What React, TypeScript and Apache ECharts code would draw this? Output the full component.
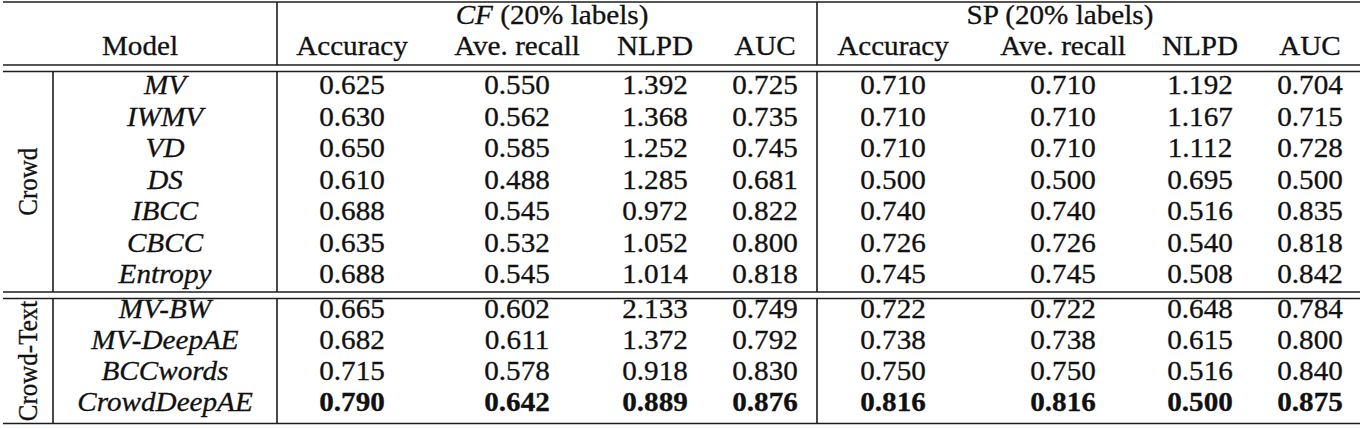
import React, { useEffect, useRef } from "react";
import * as echarts from "echarts";

// ---------------- data ----------------
const GROUPS = ["Crowd", "Crowd-Text"];
const CROWD_MODELS = ["MV", "IWMV", "VD", "DS", "IBCC", "CBCC", "Entropy"];
const TEXT_MODELS = ["MV-BW", "MV-DeepAE", "BCCwords", "CrowdDeepAE"];
const DATASETS = ["CF", "SP"];
const DATASET_ITALIC = [true, false];
const DATASET_SUFFIX = " (20% labels)";
const METRICS = ["Accuracy", "Ave. recall", "NLPD", "AUC"];
const MODEL_HEADER = "Model";
const BOLD_MODEL = "CrowdDeepAE";

const CF_ACCURACY = [0.625, 0.63, 0.65, 0.61, 0.688, 0.635, 0.688, 0.665, 0.682, 0.715, 0.79];
const CF_AVE_RECALL = [0.55, 0.562, 0.585, 0.488, 0.545, 0.532, 0.545, 0.602, 0.611, 0.578, 0.642];
const CF_NLPD = [1.392, 1.368, 1.252, 1.285, 0.972, 1.052, 1.014, 2.133, 1.372, 0.918, 0.889];
const CF_AUC = [0.725, 0.735, 0.745, 0.681, 0.822, 0.8, 0.818, 0.749, 0.792, 0.83, 0.876];
const SP_ACCURACY = [0.71, 0.71, 0.71, 0.5, 0.74, 0.726, 0.745, 0.722, 0.738, 0.75, 0.816];
const SP_AVE_RECALL = [0.71, 0.71, 0.71, 0.5, 0.74, 0.726, 0.745, 0.722, 0.738, 0.75, 0.816];
const SP_NLPD = [1.192, 1.167, 1.112, 0.695, 0.516, 0.54, 0.508, 0.648, 0.615, 0.516, 0.5];
const SP_AUC = [0.704, 0.715, 0.728, 0.5, 0.835, 0.818, 0.842, 0.784, 0.8, 0.84, 0.875];

const VALUE_COLUMNS = [
  CF_ACCURACY, CF_AVE_RECALL, CF_NLPD, CF_AUC,
  SP_ACCURACY, SP_AVE_RECALL, SP_NLPD, SP_AUC,
];

// ---------------- layout (px in the 1364 x 429 frame) ----------------
const W = 1364;
const H = 429;
const FONT = '"Liberation Serif", "Times New Roman", Times, serif';
const FONT_SIZE = 27;
const SCALE_X = 1.08;
const GROUP_FONT_SIZE = 25;
const INK = "#111111";
const INK_STROKE = 0.3;
const RULE = "#1c1c1c";

const COL_X = [352, 517, 655, 765, 893, 1063, 1200, 1310];
const DATASET_X = [552, 1060];
const MODEL_HEAD_X = 140;
const MODEL_X = 165;
const GROUP_X = 28;
const HEAD1_Y = 15;
const HEAD2_Y = 46;
const CROWD_Y0 = 85;
const CROWD_STEP = 31.5;
const TEXT_Y0 = 308.5;
const TEXT_STEP = 31;

const LEFT = 3;
const RIGHT = 1360;
const TOP_RULE = 2;
const HEAD_RULE_A = 65;
const HEAD_RULE_B = 71.5;
const MID_RULE_A = 292;
const MID_RULE_B = 298.5;
const BOTTOM_RULE = 423.5;
const VLINE_GROUP = 53;
const VLINE_MODEL = 277;
const VLINE_DATASET = 817;

type Cell = {
  value: [number, number];
  text: string;
  italic?: boolean;
  bold?: boolean;
  rotate?: boolean;
  italicPrefix?: string;
  size?: number;
};

function rowY(i: number): number {
  return i < CROWD_MODELS.length
    ? CROWD_Y0 + i * CROWD_STEP
    : TEXT_Y0 + (i - CROWD_MODELS.length) * TEXT_STEP;
}

function buildCells(): Cell[] {
  const cells: Cell[] = [];
  DATASETS.forEach((d, k) => {
    if (DATASET_ITALIC[k]) {
      cells.push({ value: [DATASET_X[k], HEAD1_Y], text: DATASET_SUFFIX, italicPrefix: d });
    } else {
      cells.push({ value: [DATASET_X[k], HEAD1_Y], text: d + DATASET_SUFFIX });
    }
  });
  cells.push({ value: [MODEL_HEAD_X, HEAD2_Y], text: MODEL_HEADER });
  DATASETS.forEach((_, k) => {
    METRICS.forEach((m, j) => {
      cells.push({ value: [COL_X[k * METRICS.length + j], HEAD2_Y], text: m });
    });
  });
  cells.push({
    value: [GROUP_X, (HEAD_RULE_B + MID_RULE_A) / 2],
    text: GROUPS[0], rotate: true, size: GROUP_FONT_SIZE,
  });
  cells.push({
    value: [GROUP_X, (MID_RULE_B + BOTTOM_RULE) / 2],
    text: GROUPS[1], rotate: true, size: GROUP_FONT_SIZE,
  });
  const allModels = [...CROWD_MODELS, ...TEXT_MODELS];
  allModels.forEach((m, i) => {
    cells.push({ value: [MODEL_X, rowY(i)], text: m, italic: true });
    VALUE_COLUMNS.forEach((col, c) => {
      cells.push({
        value: [COL_X[c], rowY(i)],
        text: col[i].toFixed(3),
        bold: m === BOLD_MODEL,
      });
    });
  });
  return cells;
}

type Rule = { value: [number, number, number, number] };

function buildRules(): Rule[] {
  const r: Rule[] = [];
  [TOP_RULE, HEAD_RULE_A, HEAD_RULE_B, MID_RULE_A, MID_RULE_B, BOTTOM_RULE].forEach((y) =>
    r.push({ value: [LEFT, y, RIGHT, y] })
  );
  [VLINE_MODEL, VLINE_DATASET].forEach((x) => {
    r.push({ value: [x, TOP_RULE, x, HEAD_RULE_A] });
    r.push({ value: [x, HEAD_RULE_B, x, MID_RULE_A] });
    r.push({ value: [x, MID_RULE_B, x, BOTTOM_RULE] });
  });
  r.push({ value: [VLINE_GROUP, HEAD_RULE_B, VLINE_GROUP, MID_RULE_A] });
  r.push({ value: [VLINE_GROUP, MID_RULE_B, VLINE_GROUP, BOTTOM_RULE] });
  return r;
}

export default function App() {
  const ref = useRef<HTMLDivElement>(null);
  useEffect(() => {
    if (!ref.current) return;
    const chart = echarts.init(ref.current, undefined, { renderer: "svg" });
    const cells = buildCells();
    const rules = buildRules();
    chart.setOption({
      animation: false,
      backgroundColor: "#ffffff",
      grid: { left: 0, right: 0, top: 0, bottom: 0, containLabel: false },
      xAxis: { type: "value", min: 0, max: W, show: false },
      yAxis: { type: "value", min: 0, max: H, inverse: true, show: false },
      series: [
        {
          type: "custom",
          name: "rules",
          coordinateSystem: "cartesian2d",
          clip: false,
          silent: true,
          encode: { x: [0, 2], y: [1, 3] },
          data: rules,
          renderItem: (params: any, api: any) => {
            const a = api.coord([api.value(0), api.value(1)]);
            const b = api.coord([api.value(2), api.value(3)]);
            return {
              type: "line",
              shape: { x1: a[0], y1: a[1], x2: b[0], y2: b[1] },
              style: { stroke: RULE, lineWidth: 1.6 },
            };
          },
        },
        {
          type: "custom",
          name: "cells",
          coordinateSystem: "cartesian2d",
          clip: false,
          silent: true,
          encode: { x: 0, y: 1 },
          data: cells.map((c) => ({ value: c.value })),
          renderItem: (params: any, api: any) => {
            const c = cells[params.dataIndex];
            const p = api.coord([api.value(0), api.value(1)]);
            const size = c.size || FONT_SIZE;
            let style: any;
            if (c.italicPrefix) {
              style = {
                text: `{it|${c.italicPrefix}}{n|${c.text}}`,
                fontFamily: FONT,
                fontSize: size,
                fill: INK,
                align: "center",
                verticalAlign: "middle",
                rich: {
                  it: { fontFamily: FONT, fontSize: size, fontStyle: "italic", fill: INK, stroke: INK, lineWidth: INK_STROKE },
                  n: { fontFamily: FONT, fontSize: size, fill: INK, stroke: INK, lineWidth: INK_STROKE },
                },
              };
            } else {
              style = {
                text: c.text,
                fontFamily: FONT,
                fontSize: size,
                fontStyle: c.italic ? "italic" : "normal",
                fontWeight: c.bold ? "bold" : "normal",
                fill: INK,
                stroke: INK,
                lineWidth: INK_STROKE,
                align: "center",
                verticalAlign: "middle",
              };
            }
            return {
              type: "text",
              x: p[0],
              y: p[1],
              rotation: c.rotate ? Math.PI / 2 : 0,
              scaleX: c.rotate ? 1 : SCALE_X,
              scaleY: c.rotate ? SCALE_X : 1,
              style,
            };
          },
        },
      ],
    });
    return () => chart.dispose();
  }, []);
  return (
    <div
      ref={ref}
      style={{ position: "fixed", left: 0, top: 0, width: W, height: H, background: "#fff" }}
    />
  );
}
